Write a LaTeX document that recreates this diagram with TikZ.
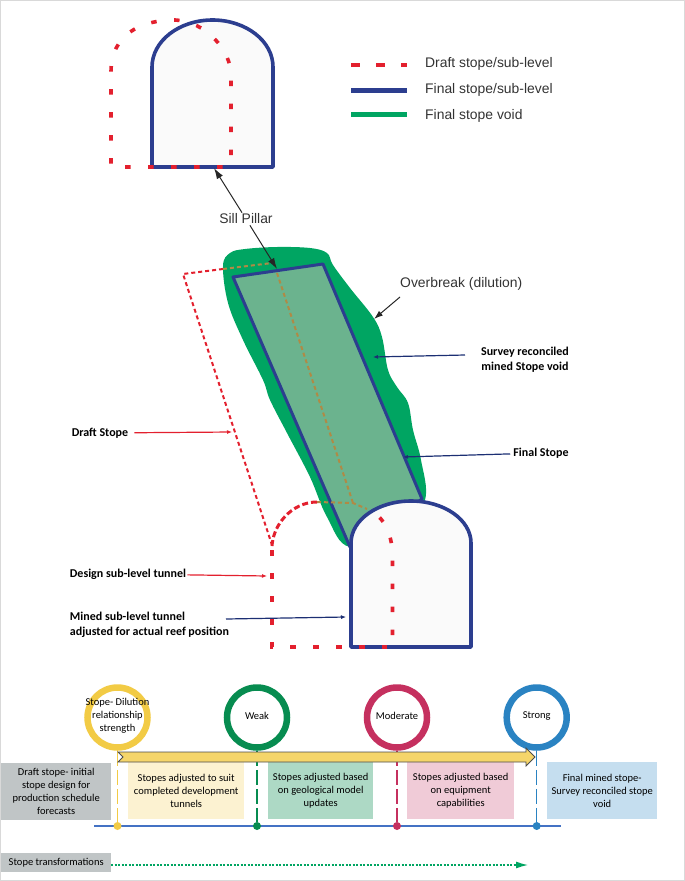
\documentclass[tikz,border=0pt]{standalone}
\usepackage{fontspec}
\setmainfont{Carlito}
\newfontfamily\arialfont{Liberation Sans}
\usetikzlibrary{arrows.meta}

\definecolor{draftred}{HTML}{E3202E}
\definecolor{finalblue}{HTML}{2C3E8F}
\definecolor{voidgreen}{HTML}{00A562}
\definecolor{stopegreen}{HTML}{6BB38E}
\definecolor{draftbrown}{HTML}{B08A45}
\definecolor{navyline}{HTML}{1C2F73}
\definecolor{ringyellow}{HTML}{F2CB45}
\definecolor{ringgreen}{HTML}{078C50}
\definecolor{ringpink}{HTML}{C5305F}
\definecolor{ringblue}{HTML}{2A83C2}
\definecolor{greybox}{HTML}{C0C5C6}

\tikzset{
  draftline/.style={draftred,line width=3.6pt,dash pattern=on 5.5pt off 17.5pt},
  thindraft/.style={line width=2pt,dash pattern=on 4pt off 3pt},
  tunnel/.style={draw=finalblue,line width=3.6pt,fill=black!2,line join=round},
  blackarrow/.style={-{Latex[length=11pt,width=7pt]},line width=1pt,black!85},
  redarrow/.style={-{Latex[length=5pt,width=4pt]},line width=1.2pt,draftred},
  navyarrow/.style={-{Latex[length=5pt,width=4pt]},line width=1.2pt,navyline},
  arial/.style={font=\arialfont\fontsize{13.9}{16}\selectfont,text=black!80,inner sep=1pt},
  boldlabel/.style={font=\bfseries\fontsize{12}{15}\selectfont,inner sep=1pt,align=left},
  ring/.style={circle,draw,line width=6.5pt,fill=white,minimum size=60pt,inner sep=0pt},
  ringtext/.style={font=\fontsize{10.5}{13}\selectfont,align=center,inner sep=0pt},
  stagebox/.style={font=\fontsize{10.5}{13}\selectfont,align=center,inner sep=0pt,minimum height=57pt},
  stagedash/.style={line width=1.5pt,dash pattern=on 15pt off 4pt},
  stagedot/.style={circle,minimum size=8pt,inner sep=0pt},
}

\begin{document}
\begin{tikzpicture}[x=1pt,y=-1pt]
   \useasboundingbox (0,0) rectangle (685,881);
   \draw[black!15,line width=2pt] (0,0) rectangle (685,881);

   % top tunnel
   \draw[tunnel] (152,167) -- (152,67) arc[start angle=180,end angle=360,x radius=60.5,y radius=47] -- (273,167) -- cycle;
   \draw[draftline] (231,155) -- (231,75) .. controls (231,50) and (205,21) .. (175,20)
      .. controls (140,20) and (111,35) .. (111,72) -- (111,167) -- (225,167);

   % legend
   \draw (351,65) coordinate (leg1a);
   \draw (407,65) coordinate (leg1b);
   \draw (351,90) coordinate (leg2a);
   \draw (407,90) coordinate (leg2b);
   \draw (351,114.5) coordinate (leg3a);
   \draw (407,114.5) coordinate (leg3b);
   \path[draftred,line width=4.5pt,dash pattern=on 9pt off 16pt] (leg1a) edge (leg1b);
   \path[finalblue,line width=5pt] (leg2a) edge (leg2b);
   \path[voidgreen,line width=5pt] (leg3a) edge (leg3b);
   \draw (424,64) node[arial,anchor=west] (legdraft) {Draft stope/sub-level};
   \draw (424,90) node[arial,anchor=west] (legfinal) {Final stope/sub-level};
   \draw (424,116) node[arial,anchor=west] (legvoid) {Final stope void};

   % stope
   \draw[fill=voidgreen,draw=none] plot[smooth cycle,tension=0.6] coordinates {
      (223,266) (230,253) (245,249) (277,247) (310,248) (327,253) (333,265) (350,288)
      (373,317) (382,337) (388,370) (397,387) (408,403) (413,430) (421,460) (425,500)
      (400,530) (350,547) (327,517) (310,477) (287,433) (270,400) (263,380) (243,340) (228,303)};
   \draw[fill=stopegreen,draw=finalblue,line width=3pt,line join=round] (233,277) -- (323,264) -- (422,499) -- (350,547) -- cycle;
   \draw[draftred,thindraft] (223,269) -- (183,274) -- (272,545);
   \draw[draftbrown,thindraft] (223,269) -- (272,263);
   \draw[draftbrown,thindraft] (277,273) -- (353,503);
   \draw[draftbrown,thindraft] (317,502) -- (353,503) -- (367,509);

   % bottom tunnel
   \draw[tunnel] (351,647) -- (351,543) arc[start angle=180,end angle=360,x radius=60,y radius=42] -- (471,647) -- cycle;
   \draw[draftline] (392.5,635) -- (392.5,555) .. controls (392,535) and (385,522) .. (378,516);
   \draw[draftred,line width=3pt,dash pattern=on 6pt off 3pt] (317,502) .. controls (292,502) and (272,525) .. (272,548);
   \draw[draftline] (272,550) -- (272,647) -- (387,647);

   % labels
   \draw (246,219) node[arial] (sill) {Sill Pillar};
   \draw (399,284) node[arial,anchor=west] (over) {Overbreak (dilution)};
   \draw (525,360) node[boldlabel,align=center] (survey) {Survey reconciled\\mined Stope void};
   \draw (541,453) node[boldlabel,inner sep=3pt] (final) {Final Stope};
   \draw (100,433) node[boldlabel,inner sep=6pt] (draft) {Draft Stope};
   \draw (128,574) node[boldlabel] (design) {Design sub-level tunnel};
   \draw (149.5,624.5) node[boldlabel] (mined) {Mined sub-level tunnel\\adjusted for actual reef position};

   \draw (214,168) coordinate (silltop);
   \draw (277,269) coordinate (sillstope);
   \draw (400,297) coordinate (overtail);
   \draw (374,319) coordinate (overtip);
   \draw (373,357) coordinate (surveytip);
   \draw (465,355) coordinate (surveytail);
   \draw (403,457) coordinate (finaltip);
   \draw (232,432) coordinate (drafttip);
   \draw (267,576) coordinate (designtip);
   \draw (226,619) coordinate (minedtail);
   \draw (346,617) coordinate (minedtip);

   \path[blackarrow] (sill) edge (silltop);
   \path[blackarrow] (sill) edge (sillstope);
   \path[blackarrow,-{Latex[length=9pt,width=6pt]}] (overtail) edge (overtip);
   \path[navyarrow] (surveytail) edge (surveytip);
   \path[navyarrow] (final) edge (finaltip);
   \path[redarrow] (draft) edge (drafttip);
   \path[redarrow] (design) edge (designtip);
   \path[navyarrow] (minedtail) edge (minedtip);

   % timeline
   \draw (94,826) coordinate (axisleft);
   \draw (561,826) coordinate (axisright);
   \path[line width=1.5pt,color={rgb,255:red,68;green,114;blue,196}] (axisleft) edge (axisright);

   \draw (1,763) node[fill=greybox,anchor=north west,minimum width=110pt,minimum height=58pt,stagebox] (drafttext) {Draft stope- initial\\stope design for\\production schedule\\forecasts};
   \draw (128,762) node[fill=ringyellow!25,anchor=north west,minimum width=116pt,stagebox] (yellowtext) {Stopes adjusted to suit\\completed  development\\tunnels};
   \draw (268,762) node[fill=ringgreen!33,anchor=north west,minimum width=105pt,stagebox] (greentext) {Stopes adjusted based\\on geological model\\updates};
   \draw (407,762) node[fill=ringpink!25,anchor=north west,minimum width=107pt,stagebox] (pinktext) {Stopes adjusted based\\on equipment\\capabilities};
   \draw (547,762) node[fill=ringblue!27,anchor=north west,minimum width=110pt,stagebox] (bluetext) {Final mined stope-\\Survey reconciled stope\\void};

   \draw (117.5,717.5) node[ring,draw=ringyellow] (ringdraft) {};
   \draw (257,717.5) node[ring,draw=ringgreen] (ringweak) {};
   \draw (397,717.5) node[ring,draw=ringpink] (ringmoderate) {};
   \draw (536.7,717.5) node[ring,draw=ringblue] (ringstrong) {};
   \draw (117.5,716) node[ringtext] (textdraft) {Stope- Dilution\\relationship\\strength};
   \draw (257,716) node[ringtext] (textweak) {Weak};
   \draw (397,716) node[ringtext] (textmoderate) {Moderate};
   \draw (536.7,716) node[ringtext] (textstrong) {Strong};

   \draw (117.5,826) node[stagedot,fill=ringyellow] (dotdraft) {};
   \draw (257,826) node[stagedot,fill=ringgreen] (dotweak) {};
   \draw (397,826) node[stagedot,fill=ringpink] (dotmoderate) {};
   \draw (536.7,826) node[stagedot,fill=ringblue] (dotstrong) {};
   \path[stagedash,ringyellow] (ringdraft) edge (dotdraft);
   \path[stagedash,ringgreen] (ringweak) edge (dotweak);
   \path[stagedash,ringpink] (ringmoderate) edge (dotmoderate);
   \path[stagedash,ringblue] (ringstrong) edge (dotstrong);

   \draw[fill=ringyellow!80,draw=black!70,line width=0.8pt,line join=miter]
      (118,752) -- (526,752) -- (526,748) -- (535,757) -- (526,766) -- (526,762) -- (118,762) -- (123,757) -- cycle;

   \draw (1,853) node[fill=greybox,anchor=north west,minimum width=110pt,minimum height=19pt,inner sep=0pt,font=\fontsize{10.5}{13}\selectfont] (transform) {Stope transformations};
   \draw (528,865) coordinate (transformtip);
   \draw (111,865) coordinate (transformtail);
   \path[voidgreen,line width=1.3pt,dash pattern=on 2pt off 1.5pt,-{Latex[length=12pt,width=7pt]}] (transformtail) edge (transformtip);
\end{tikzpicture}
\end{document}
